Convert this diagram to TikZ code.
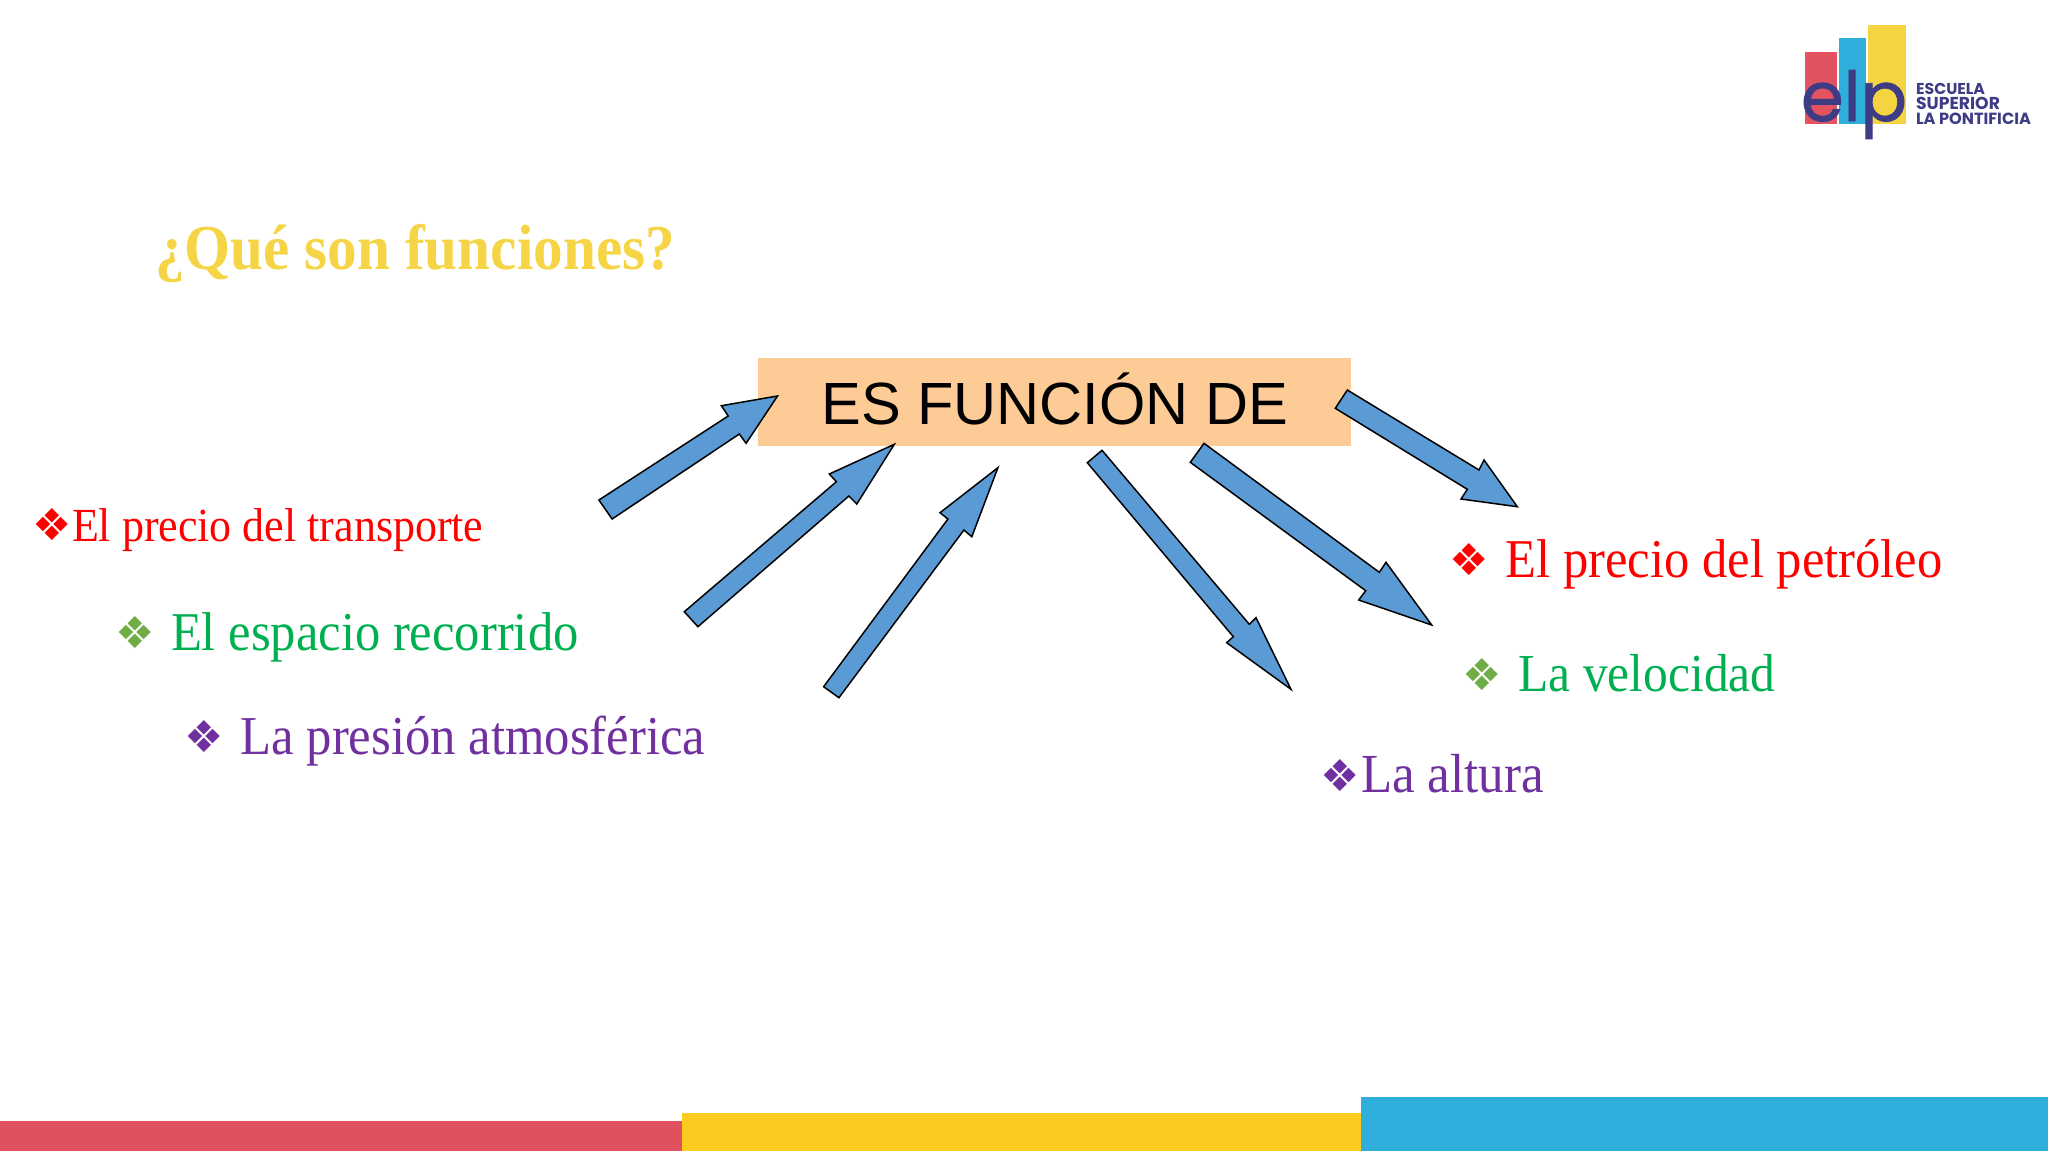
\documentclass[tikz,border=0pt]{standalone}
\usepackage{fontspec}
\setmainfont{Liberation Serif}
\newfontfamily\sansf{Liberation Sans}
\newfontfamily\logof{Poppins}
\newfontfamily\logom[FakeBold=1.2]{Poppins}
\newfontfamily\bulf{DejaVu Sans}
\definecolor{arrowblue}{HTML}{5B9BD5}
\definecolor{boxorange}{HTML}{FDCB96}
\definecolor{titleyellow}{HTML}{F5D545}
\definecolor{tred}{HTML}{FF0000}
\definecolor{tgreen}{HTML}{00B050}
\definecolor{tpurple}{HTML}{7030A0}
\definecolor{bgreen}{HTML}{70AD47}
\definecolor{barred}{HTML}{E0505F}
\definecolor{baryellow}{HTML}{FBCB1F}
\definecolor{barblue}{HTML}{2FAEDB}
\definecolor{logored}{HTML}{E2525F}
\definecolor{logoblue}{HTML}{2FAEDB}
\definecolor{logoyellow}{HTML}{F5D442}
\definecolor{logoink}{HTML}{3F3C86}
\newcommand{\fitw}[2]{\resizebox{#1pt}{!}{#2}}
\newcommand{\fits}[2]{\scalebox{1}[1.08]{\resizebox{#1pt}{!}{#2}}}
\tikzset{
  x=0.5pt,y=-0.5pt,
  blockarrow/.style={fill=arrowblue,draw=black,line width=0.75pt,line join=miter},
  lbl/.style={anchor=base west,inner sep=0pt,outer sep=0pt},
  bul/.style={anchor=center,inner sep=0pt,outer sep=0pt,font=\bulf\fontsize{22}{22}\selectfont}
}
\begin{document}
\begin{tikzpicture}
\useasboundingbox (0,0) rectangle (2048,1152);
% bottom bars
\fill[barred] (0,1121) rectangle (682,1151);
\fill[baryellow] (682,1112.5) rectangle (1361,1151);
\fill[barblue] (1361,1096.7) rectangle (2048,1151);
% logo
\fill[logored] (1805,52.3) rectangle (1837.3,124);
\fill[logoblue] (1838.7,37.7) rectangle (1866,124);
\fill[logoyellow] (1868,25) rectangle (1906,124);
\node[lbl,text=logoink] (elp) at (1801,121) {\fitw{53}{\logom elp}};
\node[lbl,text=logoink] (l1) at (1916,94.3) {\fitw{34.5}{\logof\bfseries ESCUELA}};
\node[lbl,text=logoink] (l2) at (1916,109) {\fitw{42}{\logof\bfseries SUPERIOR}};
\node[lbl,text=logoink] (l3) at (1916,124) {\fitw{57.5}{\logof\bfseries LA PONTIFICIA}};
% title
\node[lbl,text=titleyellow] (title) at (155,269) {\fits{260}{\bfseries ¿Qué son funciones?}};
% box
\fill[boxorange] (757.9,358) rectangle (1350.7,445.7);
\node[lbl] (func) at (821.5,424) {\fitw{233.3}{\sansf ES FUNCIÓN DE}};
% arrows
\draw[blockarrow] (598.9,500)--(612.1,519)--(739.3,434)--(746.1,443.3)--(777.5,396)--(721.4,405.7)--(728.2,416)--cycle;
\draw[blockarrow] (684.3,611.7)--(697.9,626.7)--(848.9,496)--(856.8,504)--(894.3,444.3)--(829.3,474)--(836.4,481.7)--cycle;
\draw[blockarrow] (823.6,686.7)--(838.9,697.7)--(963.9,530)--(971.8,536.7)--(997.9,467.7)--(940,512.7)--(947.9,519)--cycle;
\draw[blockarrow] (1347.3,390)--(1335.3,408.3)--(1467.3,489.3)--(1461,499)--(1517.3,506.7)--(1484,460)--(1479,470)--cycle;
\draw[blockarrow] (1204,443.3)--(1190.3,462.3)--(1365.7,590.7)--(1358.7,600)--(1431.7,625)--(1386,562.3)--(1379.3,572.3)--cycle;
\draw[blockarrow] (1102,450.3)--(1087.3,462.7)--(1233.3,636.7)--(1226.7,642.7)--(1291,689.3)--(1256,617.7)--(1249.3,624.3)--cycle;
% left list
\node[bul,text=tred] (b1) at (52,524.2) {❖};
\node[lbl,text=tred] (t1) at (72,541.3) {\fits{205.7}{El precio del transporte}};
\node[bul,text=bgreen] (b2) at (135.4,632.5) {❖};
\node[lbl,text=tgreen] (t2) at (171,650.3) {\fits{203.8}{El espacio recorrido}};
\node[bul,text=tpurple] (b3) at (204.3,736.5) {❖};
\node[lbl,text=tpurple] (t3) at (240.5,754.7) {\fits{232.4}{La presión atmosférica}};
% right list
\node[bul,text=tred] (b4) at (1469.3,559.7) {❖};
\node[lbl,text=tred] (t4) at (1505.5,577.7) {\fits{218.5}{El precio del petróleo}};
\node[bul,text=bgreen] (b5) at (1482,674.3) {❖};
\node[lbl,text=tgreen] (t5) at (1518.5,691.5) {\fits{128.5}{La velocidad}};
\node[bul,text=tpurple] (b6) at (1340,775.7) {❖};
\node[lbl,text=tpurple] (t6) at (1361,792) {\fits{91.3}{La altura}};
\end{tikzpicture}
\end{document}
